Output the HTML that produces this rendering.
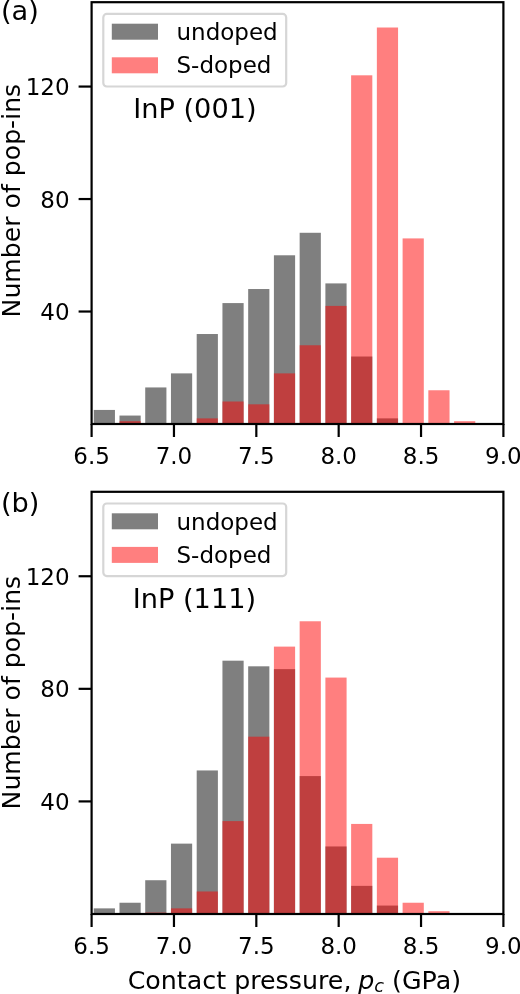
<!DOCTYPE html>
<html><head><meta charset="utf-8"><style>
html,body{margin:0;padding:0;background:#fff;}
body{width:520px;height:994px;overflow:hidden;}
svg{display:block;}
text{font-family:"DejaVu Sans","Liberation Sans",sans-serif;fill:#000;}
</style></head><body>
<svg width="520" height="994" viewBox="0 0 520 994">
<rect width="520" height="994" fill="#fff"/>
<rect x="93.75" y="409.94" width="21.20" height="14.06" fill="#000" fill-opacity="0.5"/>
<rect x="119.49" y="415.56" width="21.20" height="8.44" fill="#000" fill-opacity="0.5"/>
<rect x="145.22" y="387.44" width="21.20" height="36.56" fill="#000" fill-opacity="0.5"/>
<rect x="170.96" y="373.38" width="21.20" height="50.62" fill="#000" fill-opacity="0.5"/>
<rect x="196.70" y="334.02" width="21.20" height="89.98" fill="#000" fill-opacity="0.5"/>
<rect x="222.44" y="303.08" width="21.20" height="120.92" fill="#000" fill-opacity="0.5"/>
<rect x="248.17" y="289.02" width="21.20" height="134.98" fill="#000" fill-opacity="0.5"/>
<rect x="273.91" y="255.28" width="21.20" height="168.72" fill="#000" fill-opacity="0.5"/>
<rect x="299.65" y="232.78" width="21.20" height="191.22" fill="#000" fill-opacity="0.5"/>
<rect x="325.39" y="283.40" width="21.20" height="140.60" fill="#000" fill-opacity="0.5"/>
<rect x="351.12" y="356.51" width="21.20" height="67.49" fill="#000" fill-opacity="0.5"/>
<rect x="376.86" y="418.38" width="21.20" height="5.62" fill="#000" fill-opacity="0.5"/>
<rect x="119.49" y="421.19" width="21.20" height="2.81" fill="#f00" fill-opacity="0.5"/>
<rect x="196.70" y="418.38" width="21.20" height="5.62" fill="#f00" fill-opacity="0.5"/>
<rect x="222.44" y="401.50" width="21.20" height="22.50" fill="#f00" fill-opacity="0.5"/>
<rect x="248.17" y="404.32" width="21.20" height="19.68" fill="#f00" fill-opacity="0.5"/>
<rect x="273.91" y="373.38" width="21.20" height="50.62" fill="#f00" fill-opacity="0.5"/>
<rect x="299.65" y="345.26" width="21.20" height="78.74" fill="#f00" fill-opacity="0.5"/>
<rect x="325.39" y="305.90" width="21.20" height="118.10" fill="#f00" fill-opacity="0.5"/>
<rect x="351.12" y="75.31" width="21.20" height="348.69" fill="#f00" fill-opacity="0.5"/>
<rect x="376.86" y="27.51" width="21.20" height="396.49" fill="#f00" fill-opacity="0.5"/>
<rect x="402.60" y="238.41" width="21.20" height="185.59" fill="#f00" fill-opacity="0.5"/>
<rect x="428.34" y="390.26" width="21.20" height="33.74" fill="#f00" fill-opacity="0.5"/>
<rect x="454.07" y="421.19" width="21.20" height="2.81" fill="#f00" fill-opacity="0.5"/>
<rect x="103.3" y="13.90" width="182.9" height="72.6" rx="3.5" ry="3.5" fill="#fff" fill-opacity="0.8" stroke="#d6d6d6" stroke-width="2.2"/>
<rect x="111.8" y="23.70" width="46.2" height="16" fill="#000" fill-opacity="0.5"/>
<rect x="111.8" y="57.30" width="46.2" height="16" fill="#f00" fill-opacity="0.5"/>
<text x="176.5" y="39.90" font-size="23.0">undoped</text>
<text x="176.5" y="73.40" font-size="23.0">S-doped</text>
<text x="133.20" y="117.70" font-size="27.2">InP (001)</text>
<text x="0.9" y="20.40" font-size="27.2">(a)</text>
<rect x="91.60" y="2.20" width="411.80" height="421.80" fill="none" stroke="#000" stroke-width="2.2" stroke-linejoin="miter"/>
<line x1="78.60" y1="311.52" x2="91.60" y2="311.52" stroke="#000" stroke-width="2.2"/>
<text x="69.60" y="320.12" font-size="23.0" text-anchor="end">40</text>
<line x1="78.60" y1="199.04" x2="91.60" y2="199.04" stroke="#000" stroke-width="2.2"/>
<text x="69.60" y="207.64" font-size="23.0" text-anchor="end">80</text>
<line x1="78.60" y1="86.56" x2="91.60" y2="86.56" stroke="#000" stroke-width="2.2"/>
<text x="69.60" y="95.16" font-size="23.0" text-anchor="end">120</text>
<line x1="91.60" y1="424.00" x2="91.60" y2="437.00" stroke="#000" stroke-width="2.2"/>
<text x="91.60" y="463.90" font-size="23.0" text-anchor="middle">6.5</text>
<line x1="173.96" y1="424.00" x2="173.96" y2="437.00" stroke="#000" stroke-width="2.2"/>
<text x="173.96" y="463.90" font-size="23.0" text-anchor="middle">7.0</text>
<line x1="256.32" y1="424.00" x2="256.32" y2="437.00" stroke="#000" stroke-width="2.2"/>
<text x="256.32" y="463.90" font-size="23.0" text-anchor="middle">7.5</text>
<line x1="338.68" y1="424.00" x2="338.68" y2="437.00" stroke="#000" stroke-width="2.2"/>
<text x="338.68" y="463.90" font-size="23.0" text-anchor="middle">8.0</text>
<line x1="421.04" y1="424.00" x2="421.04" y2="437.00" stroke="#000" stroke-width="2.2"/>
<text x="421.04" y="463.90" font-size="23.0" text-anchor="middle">8.5</text>
<line x1="503.40" y1="424.00" x2="503.40" y2="437.00" stroke="#000" stroke-width="2.2"/>
<text x="503.40" y="463.90" font-size="23.0" text-anchor="middle">9.0</text>
<text transform="translate(19.7,200.60) rotate(-90)" font-size="25.15" text-anchor="middle">Number of pop-ins</text>
<rect x="93.75" y="908.37" width="21.20" height="5.63" fill="#000" fill-opacity="0.5"/>
<rect x="119.49" y="902.74" width="21.20" height="11.26" fill="#000" fill-opacity="0.5"/>
<rect x="145.22" y="880.22" width="21.20" height="33.78" fill="#000" fill-opacity="0.5"/>
<rect x="170.96" y="843.63" width="21.20" height="70.37" fill="#000" fill-opacity="0.5"/>
<rect x="196.70" y="770.45" width="21.20" height="143.55" fill="#000" fill-opacity="0.5"/>
<rect x="222.44" y="660.68" width="21.20" height="253.32" fill="#000" fill-opacity="0.5"/>
<rect x="248.17" y="666.31" width="21.20" height="247.69" fill="#000" fill-opacity="0.5"/>
<rect x="273.91" y="669.12" width="21.20" height="244.88" fill="#000" fill-opacity="0.5"/>
<rect x="299.65" y="776.08" width="21.20" height="137.92" fill="#000" fill-opacity="0.5"/>
<rect x="325.39" y="846.45" width="21.20" height="67.55" fill="#000" fill-opacity="0.5"/>
<rect x="351.12" y="885.85" width="21.20" height="28.15" fill="#000" fill-opacity="0.5"/>
<rect x="376.86" y="905.56" width="21.20" height="8.44" fill="#000" fill-opacity="0.5"/>
<rect x="145.22" y="912.59" width="21.20" height="1.41" fill="#f00" fill-opacity="0.5"/>
<rect x="170.96" y="908.37" width="21.20" height="5.63" fill="#f00" fill-opacity="0.5"/>
<rect x="196.70" y="891.48" width="21.20" height="22.52" fill="#f00" fill-opacity="0.5"/>
<rect x="222.44" y="821.12" width="21.20" height="92.88" fill="#f00" fill-opacity="0.5"/>
<rect x="248.17" y="736.68" width="21.20" height="177.32" fill="#f00" fill-opacity="0.5"/>
<rect x="273.91" y="646.61" width="21.20" height="267.39" fill="#f00" fill-opacity="0.5"/>
<rect x="299.65" y="621.27" width="21.20" height="292.73" fill="#f00" fill-opacity="0.5"/>
<rect x="325.39" y="677.57" width="21.20" height="236.43" fill="#f00" fill-opacity="0.5"/>
<rect x="351.12" y="823.93" width="21.20" height="90.07" fill="#f00" fill-opacity="0.5"/>
<rect x="376.86" y="857.71" width="21.20" height="56.29" fill="#f00" fill-opacity="0.5"/>
<rect x="402.60" y="902.74" width="21.20" height="11.26" fill="#f00" fill-opacity="0.5"/>
<rect x="428.34" y="911.19" width="21.20" height="2.81" fill="#f00" fill-opacity="0.5"/>
<rect x="103.3" y="503.50" width="182.9" height="72.6" rx="3.5" ry="3.5" fill="#fff" fill-opacity="0.8" stroke="#d6d6d6" stroke-width="2.2"/>
<rect x="111.8" y="513.30" width="46.2" height="16" fill="#000" fill-opacity="0.5"/>
<rect x="111.8" y="546.90" width="46.2" height="16" fill="#f00" fill-opacity="0.5"/>
<text x="176.5" y="529.50" font-size="23.0">undoped</text>
<text x="176.5" y="563.00" font-size="23.0">S-doped</text>
<text x="132.70" y="608.40" font-size="27.2">InP (111)</text>
<text x="0.9" y="511.60" font-size="27.2">(b)</text>
<rect x="91.60" y="491.80" width="411.80" height="422.20" fill="none" stroke="#000" stroke-width="2.2" stroke-linejoin="miter"/>
<line x1="78.60" y1="801.41" x2="91.60" y2="801.41" stroke="#000" stroke-width="2.2"/>
<text x="69.60" y="810.01" font-size="23.0" text-anchor="end">40</text>
<line x1="78.60" y1="688.83" x2="91.60" y2="688.83" stroke="#000" stroke-width="2.2"/>
<text x="69.60" y="697.43" font-size="23.0" text-anchor="end">80</text>
<line x1="78.60" y1="576.24" x2="91.60" y2="576.24" stroke="#000" stroke-width="2.2"/>
<text x="69.60" y="584.84" font-size="23.0" text-anchor="end">120</text>
<line x1="91.60" y1="914.00" x2="91.60" y2="927.00" stroke="#000" stroke-width="2.2"/>
<text x="91.60" y="953.90" font-size="23.0" text-anchor="middle">6.5</text>
<line x1="173.96" y1="914.00" x2="173.96" y2="927.00" stroke="#000" stroke-width="2.2"/>
<text x="173.96" y="953.90" font-size="23.0" text-anchor="middle">7.0</text>
<line x1="256.32" y1="914.00" x2="256.32" y2="927.00" stroke="#000" stroke-width="2.2"/>
<text x="256.32" y="953.90" font-size="23.0" text-anchor="middle">7.5</text>
<line x1="338.68" y1="914.00" x2="338.68" y2="927.00" stroke="#000" stroke-width="2.2"/>
<text x="338.68" y="953.90" font-size="23.0" text-anchor="middle">8.0</text>
<line x1="421.04" y1="914.00" x2="421.04" y2="927.00" stroke="#000" stroke-width="2.2"/>
<text x="421.04" y="953.90" font-size="23.0" text-anchor="middle">8.5</text>
<line x1="503.40" y1="914.00" x2="503.40" y2="927.00" stroke="#000" stroke-width="2.2"/>
<text x="503.40" y="953.90" font-size="23.0" text-anchor="middle">9.0</text>
<text transform="translate(19.7,692.60) rotate(-90)" font-size="25.15" text-anchor="middle">Number of pop-ins</text>
<text x="127.7" y="988.5" font-size="25.3">Contact pressure, <tspan font-style="italic" dx="-1.3">p</tspan><tspan font-style="italic" font-size="17.7" dy="3.8">c</tspan><tspan dy="-3.8"> (GPa)</tspan></text>
</svg>
</body></html>
